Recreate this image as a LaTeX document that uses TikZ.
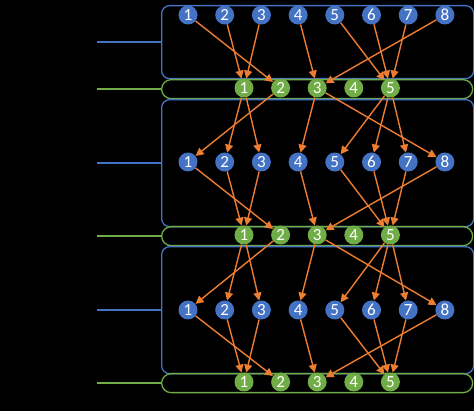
\documentclass[tikz,border=0pt]{standalone}
\usepackage{fontspec}
\setmainfont{Carlito}
\usetikzlibrary{arrows.meta}
\definecolor{cellblue}{HTML}{4472C4}
\definecolor{poolgreen}{HTML}{70AD47}
\definecolor{linkorange}{HTML}{ED7D31}

\begin{document}
\begin{tikzpicture}[
    x=1pt, y=-1pt,
    cell/.style={circle, fill=cellblue, text=white, minimum size=19pt, inner sep=0pt, font=\fontsize{17}{17}\selectfont},
    pool/.style={circle, fill=poolgreen, text=white, minimum size=19pt, inner sep=0pt, font=\fontsize{17}{17}\selectfont},
    layerbox/.style={draw=cellblue, line width=1.3pt, rounded corners=8pt, minimum width=312pt, anchor=north west, inner sep=0pt},
    poolbox/.style={draw=poolgreen, line width=1.3pt, rounded corners=9.5pt, minimum width=311pt, minimum height=19pt, anchor=north west, inner sep=0pt},
    link/.style={draw=linkorange, line width=1.4pt, -{Triangle[length=8pt, width=8pt]}}
]
    % Canvas
    \fill[black] (0,0) rectangle (474,411);
    \useasboundingbox (0,0) rectangle (474,411);

    % Layer frames and pools
    \node[layerbox, minimum height=73pt] (layer1) at (161,5) {};
    \node[poolbox] (band1) at (161,79) {};
    \node[layerbox, minimum height=127pt] (layer2) at (161,99) {};
    \node[poolbox] (band2) at (161,226) {};
    \node[layerbox, minimum height=127pt] (layer3) at (161,246) {};
    \node[poolbox] (band3) at (161,373) {};

    % Leader lines on the left
    \foreach \r in {1,2,3} {
        \coordinate (tagL\r) at ([xshift=-64pt]layer\r.west);
        \coordinate (tagB\r) at ([xshift=-64pt]band\r.west);
        \draw[cellblue, line width=1.3pt] (tagL\r) -- (layer\r.west);
        \draw[poolgreen, line width=1.3pt] (tagB\r) -- (band\r.west);
    }

    % Cells and pool units
    \foreach \r/\yb/\yg in {1/15/88, 2/162/235, 3/310/382} {
        \foreach \i in {1,...,8}
            \node[cell] (u\r\i) at ({188+36.7*(\i-1)}, \yb) {\i};
        \foreach \j in {1,...,5}
            \node[pool] (p\r\j) at ({244+36.6*(\j-1)}, \yg) {\j};
    }

    % Cells into pool
    \foreach \r in {1,2,3}
        \foreach \i/\j in {1/2, 2/1, 3/1, 4/3, 5/5, 6/5, 7/5, 8/3}
            \draw[link] (u\r\i) -- (p\r\j);

    % Pool out to next cells
    \foreach \r/\s in {1/2, 2/3}
        \foreach \j/\i in {1/2, 1/3, 2/1, 3/4, 3/8, 5/5, 5/6, 5/7}
            \draw[link] (p\r\j) -- (u\s\i);
\end{tikzpicture}
\end{document}
